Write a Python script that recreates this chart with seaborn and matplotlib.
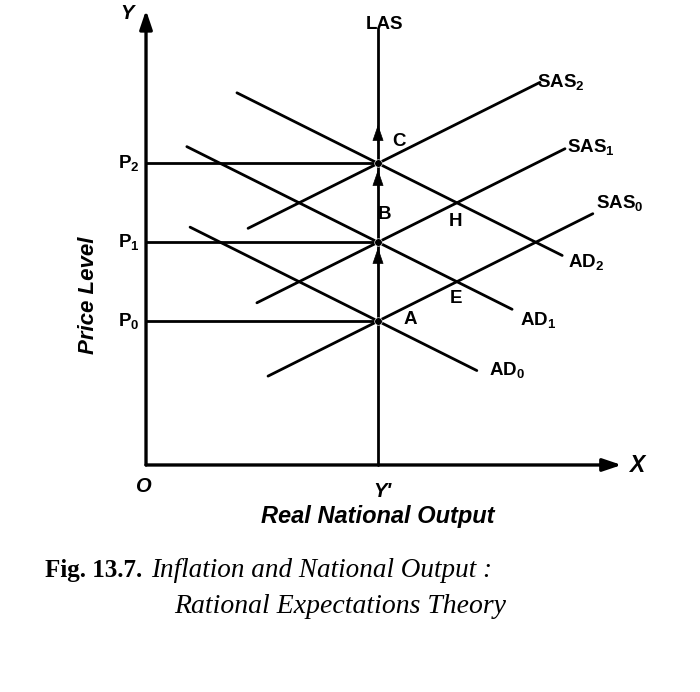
import matplotlib
matplotlib.use("Agg")
import matplotlib.pyplot as plt
import pandas as pd
import seaborn as sns

# economy in diagram units (output on x, price level on y)
full_output = 5.0
price_levels = [3.1, 4.8, 6.5]
price_labels = ["P$_0$", "P$_1$", "P$_2$"]
slope = 0.5

# curve extents along the output axis
ad_names = ["AD$_0$", "AD$_1$", "AD$_2$"]
ad_x_start = [0.95, 0.88, 1.96]
ad_x_end = [7.13, 7.89, 8.97]
sas_names = ["SAS$_0$", "SAS$_1$", "SAS$_2$"]
sas_x_start = [2.63, 2.39, 2.2]
sas_x_end = [9.63, 9.03, 8.49]

las_top = 9.4
arrow_tips = [4.68, 6.36, 7.33]

sns.set_style("white")
plt.rcParams["font.family"] = ["Liberation Sans", "DejaVu Sans"]
plt.rcParams["text.color"] = "black"
plt.rcParams["mathtext.fontset"] = "custom"
plt.rcParams["mathtext.rm"] = "Liberation Sans:bold"
plt.rcParams["mathtext.it"] = "Liberation Sans:italic:bold"
plt.rcParams["mathtext.bf"] = "Liberation Sans:bold"

fig = plt.figure(figsize=(7, 6.92), dpi=100)
ax = fig.add_axes([0, 0, 1, 1])
ax.set_xlim(-3.147, 11.94)
ax.set_ylim(-4.892, 10.02)
ax.axis("off")

rows = []
for i, p in enumerate(price_levels):
    for x in (ad_x_start[i], ad_x_end[i]):
        rows.append({"curve": f"AD{i}", "x": x, "y": p - slope * (x - full_output)})
    for x in (sas_x_start[i], sas_x_end[i]):
        rows.append({"curve": f"SAS{i}", "x": x, "y": p + slope * (x - full_output)})
    rows.append({"curve": f"P{i}", "x": 0, "y": p})
    rows.append({"curve": f"P{i}", "x": full_output, "y": p})
rows.append({"curve": "LAS", "x": full_output, "y": 0})
rows.append({"curve": "LAS", "x": full_output, "y": las_top})
df = pd.DataFrame(rows)

sns.lineplot(data=df, x="x", y="y", units="curve", estimator=None, sort=False,
             color="black", linewidth=2.0, ax=ax, legend=False)

# axes with arrows
axis_arrow = dict(arrowstyle="-|>,head_length=0.8,head_width=0.27",
                  color="black", lw=2.4, shrinkA=0, shrinkB=0, mutation_scale=14)
ax.annotate("", xy=(10.25, 0), xytext=(0, 0), arrowprops=axis_arrow)
ax.annotate("", xy=(0, 9.8), xytext=(0, 0), arrowprops=axis_arrow)

for tip in arrow_tips:
    ax.annotate("", xy=(full_output, tip), xytext=(full_output, tip - 0.4),
                arrowprops=dict(arrowstyle="-|>,head_length=0.75,head_width=0.26",
                                color="black", lw=0.5, shrinkA=0, shrinkB=0,
                                mutation_scale=14))

sns.scatterplot(x=[full_output] * 3, y=price_levels, color="black", s=30, ax=ax,
                legend=False, zorder=5)

fs = 13.5
ax.text(-0.41, 9.72, "Y", fontsize=fs + 1, style="italic", weight="bold",
        ha="center", va="center")
ax.text(10.58, -0.02, "X", fontsize=fs + 3, style="italic", weight="bold",
        ha="center", va="center")
ax.text(-0.06, -0.47, "O", fontsize=fs + 1, style="italic", weight="bold",
        ha="center", va="center")
ax.text(5.13, 9.5, "LAS", fontsize=fs, weight="bold", ha="center", va="center")
for p, lab in zip(price_levels, price_labels):
    ax.text(-0.38, p, lab, fontsize=fs, weight="bold", ha="center", va="center")
ax.text(5.1, -0.58, "Y'", fontsize=fs + 1, style="italic", weight="bold",
        ha="center", va="center")
ax.text(5.0, -1.12, "Real National Output", fontsize=17, style="italic",
        weight="bold", ha="center", va="center")
ax.text(-1.25, 3.66, "Price Level", fontsize=16, style="italic", weight="bold",
        rotation=90, ha="center", va="center")

point_labels = {"C": (5.45, 6.98), "B": (5.15, 5.39), "H": (6.66, 5.24),
                "E": (6.68, 3.58), "A": (5.69, 3.13)}
for lab, (x, y) in point_labels.items():
    ax.text(x, y, lab, fontsize=fs, weight="bold", ha="center", va="center")

sas_label_pos = [(9.7, 5.54), (9.07, 6.75), (8.43, 8.15)]
ad_label_pos = [(7.39, 1.94), (8.06, 3.02), (9.09, 4.27)]
for name, (x, y) in zip(sas_names, sas_label_pos):
    ax.text(x, y, name, fontsize=fs, weight="bold", ha="left", va="baseline")
for name, (x, y) in zip(ad_names, ad_label_pos):
    ax.text(x, y, name, fontsize=fs, weight="bold", ha="left", va="baseline")

ax.text(-2.18, -2.27, "Fig. 13.7.", fontsize=18, family="Liberation Serif",
        weight="bold", ha="left", va="center")
ax.text(0.12, -2.27, "Inflation and National Output :", fontsize=19.5,
        family="Liberation Serif", style="italic", ha="left", va="center")
ax.text(0.6, -3.05, "Rational Expectations Theory", fontsize=20,
        family="Liberation Serif", style="italic", ha="left", va="center")

fig.savefig("out.png", dpi=100, facecolor="white")
